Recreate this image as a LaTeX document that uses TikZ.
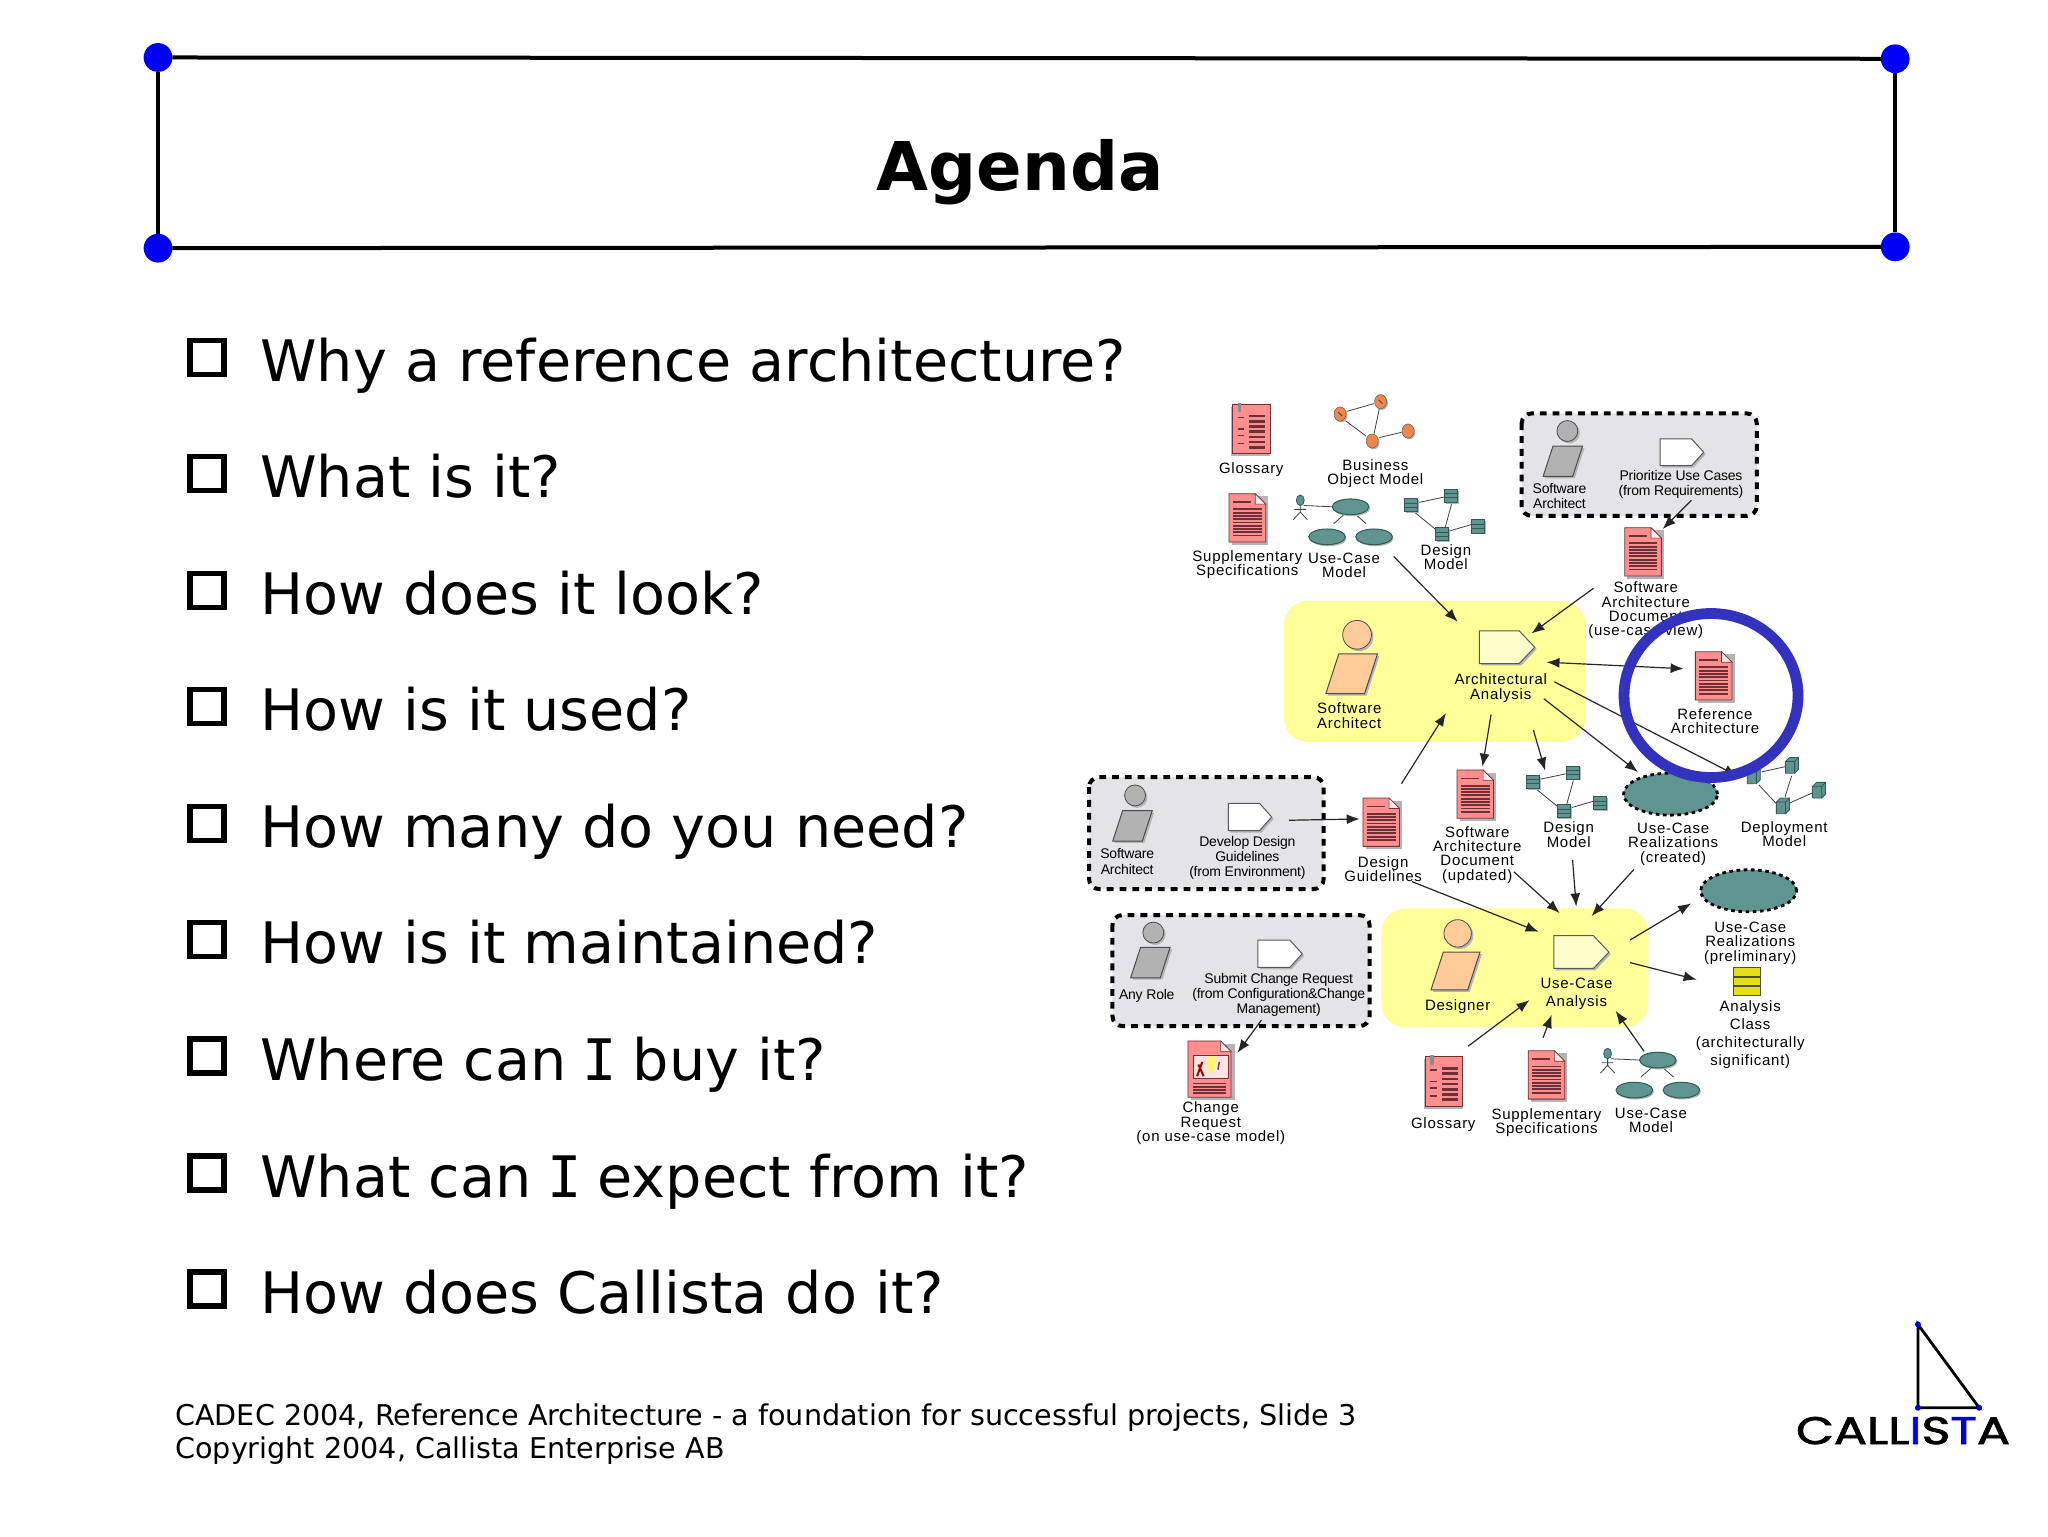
\documentclass[tikz,border=0pt]{standalone}
\usepackage{fontspec}
\usepackage{graphicx}
\setmainfont{DejaVu Sans}
\newfontfamily\lblfont[LetterSpace=5]{Liberation Sans}
\newfontfamily\lblnfont[LetterSpace=-1.6]{Liberation Sans}
\newfontfamily\logofont[FakeBold=1.8]{Poppins}
\newfontfamily\slabfont{DejaVu Sans Mono}
\newcommand{\slabI}{\kern-0.04em{\slabfont I}\kern-0.04em}
\usetikzlibrary{arrows.meta,shapes.geometric}
\definecolor{docpink}{HTML}{FF8F8F}
\definecolor{docdark}{HTML}{6E3038}
\definecolor{teal}{HTML}{5F9490}
\definecolor{tealdark}{HTML}{2F5A58}
\definecolor{yellowbg}{HTML}{FFFF99}
\definecolor{groupgray}{HTML}{E4E4E8}
\definecolor{paleyellow}{HTML}{FFFFCC}
\definecolor{peach}{HTML}{FFCC99}
\definecolor{ringblue}{HTML}{3232BE}
\definecolor{orangeball}{HTML}{F0884E}
\definecolor{shadowgray}{HTML}{B4B4B4}
\tikzset{
  x=0.65306pt,y=-0.65306pt,
  corner/.style={circle,fill=blue!95!black,minimum size=14.4pt,inner sep=0pt,outer sep=0pt},
  frameline/.style={line width=2pt,black},
  checkbox/.style={draw=black,line width=2.7pt,minimum size=17pt,inner sep=0pt,outer sep=0pt},
  bullettext/.style={anchor=base west,font=\fontsize{28.6}{30}\selectfont,inner sep=0pt},
  footer/.style={anchor=base west,font=\fontsize{14.3}{17}\selectfont,inner sep=0pt,align=left},
  lab/.style={align=center,inner sep=0pt,yshift=-0.6pt,font=\lblfont\fontsize{7.5}{7.2}\selectfont},
  labn/.style={align=center,inner sep=0pt,yshift=-0.4pt,font=\lblnfont\fontsize{7}{7.6}\selectfont},
  arr/.style={-{Latex[length=6.5pt,width=5pt]},line width=0.6pt,black!85},
  dbl/.style={{Latex[length=6.5pt,width=5pt]}-{Latex[length=6.5pt,width=5pt]},line width=0.6pt,black!85},
  yellowbox/.style={fill=yellowbg,rounded corners=12pt},
  groupbox/.style={fill=groupgray,draw=black,line width=2pt,dash pattern=on 3.4pt off 3pt,rounded corners=5pt},
  thing/.style={fill=teal,draw=tealdark,line width=0.5pt},
  rel/.style={line width=0.4pt,black!75},
  realization/.style={fill=teal,draw=black,line width=1.4pt,dash pattern=on 1.8pt off 1.8pt},
  docicon/.pic={
    \fill[shadowgray] (2,2) -- (30,2) -- (30,39) -- (2,39) -- cycle;
    \path[fill=docpink,draw=docdark,line width=0.4pt] (0,0) -- (20,0) -- (28,8) -- (28,37) -- (0,37) -- cycle;
    \path[fill=white!80!docpink,draw=docdark,line width=0.3pt] (20,0) -- (20,8) -- (28,8) -- cycle;
    \foreach \yy in {12,14.5,...,33.5} {\draw[docdark,line width=0.95pt] (3,\yy) -- (25,\yy);}
    \draw[docdark,line width=0.8pt] (3,6.5) -- (17,6.5);
  },
  glossicon/.pic={
    \fill[shadowgray] (-1,2) -- (29,2) -- (29,40) -- (-1,40) -- cycle;
    \path[fill=docpink,draw=docdark,line width=0.5pt] (0,0) -- (29,0) -- (29,38) -- (0,38) -- cycle;
    \foreach \yy in {9,13,...,35} {\draw[docdark,line width=1.3pt] (13,\yy) -- (25,\yy);}
    \foreach \yy in {10,19,24,30} {\draw[docdark,line width=0.8pt] (4,\yy) -- (9,\yy);}
    \fill[black!45] (4,-1) rectangle (7,6);
  },
  changeicon/.pic={
    \fill[shadowgray] (2,2) -- (36,2) -- (36,45) -- (2,45) -- cycle;
    \path[fill=docpink,draw=docdark,line width=0.4pt] (0,0) -- (25,0) -- (33,8) -- (33,43) -- (0,43) -- cycle;
    \path[fill=white!75!docpink,draw=docdark,line width=0.5pt] (4,11) rectangle (31,29);
    \path[fill=white!80!docpink,draw=docdark,line width=0.3pt] (25,0) -- (25,8) -- (33,8) -- cycle;
    \fill[yellow!60] (15,12) -- (21,12) -- (20,24) -- (16,24) -- cycle;
    \draw[red!65!black,line width=1pt] (7,27) -- (11,16) (12,27) -- (8,18);
    \draw[docdark,line width=0.7pt] (23,22) -- (24,16);
    \foreach \yy in {32.5,35,37.5,40} {\draw[docdark,line width=0.8pt] (4,\yy) -- (29,\yy);}
  },
  businessmodel/.pic={
    \draw[rel] (5,-2) -- (26,-8) (4,5) -- (20,17) (30,-4) -- (26,15) (30,18) -- (47,14);
    \foreach \px/\py in {0/0,31/-9.5,24.6/20.6,52/13}{
      \fill[shadowgray] (\px+1,\py+1) circle [x radius=4.6,y radius=5.4];
      \path[fill=orangeball,draw=black!60,line width=0.3pt] (\px,\py) circle [x radius=4.6,y radius=5.4];}
    \draw[black!70,line width=0.5pt] (-1.5,-1.5) -- (1.5,1.5) (29.5,-11) -- (32.5,-8);
  },
  usecasemodel/.pic={
    \draw[rel] (-36,-1) -- (-14,0);
    \path[fill=teal,draw=tealdark,line width=0.4pt] (-38.5,-5) circle [x radius=3,y radius=4];
    \draw[rel] (-38.5,-1) -- (-38.5,4) -- (-44,10) (-38.5,4) -- (-33,10) (-43,2) -- (-34,2);
    \draw[rel] (-13,13) -- (-5,6) (12,13) -- (4,6);
    \foreach \px/\py in {0/0,-18/23,18/23}{
      \fill[shadowgray] (\px+1,\py+1.2) circle [x radius=14,y radius=6];
      \path[thing] (\px,\py) circle [x radius=14,y radius=6];}
  },
  designmodel/.pic={
    \draw[rel] (6,-2) -- (25,-6) (3,6) -- (19,19) (31,-1) -- (26,17) (29,20) -- (46,15);
    \foreach \px/\py in {0/0,30.5/-7,23.5/22.4,51/16.4}{
      \fill[shadowgray] (\px-4,\py-4) rectangle (\px+6.2,\py+6);
      \path[fill=teal,draw=tealdark,line width=0.4pt] (\px-5,\py-5) rectangle (\px+5,\py+5);
      \draw[tealdark,line width=0.4pt] (\px-5,\py-1.5) -- (\px+5,\py-1.5) (\px-5,\py+1.5) -- (\px+5,\py+1.5);}
  },
  deploymodel/.pic={
    \draw[rel] (6,-3) -- (24,-7) (4,7) -- (17,21) (29,0) -- (24,16) (27,21) -- (45,13);
    \foreach \px/\py in {0/0,29.3/-8,22.3/23,50/11}{
      \path[fill=teal,draw=tealdark,line width=0.4pt] (\px-5,\py-3) -- (\px-2,\py-6) -- (\px+5,\py-6) -- (\px+5,\py+3) -- (\px+2,\py+6) -- (\px-5,\py+6) -- cycle;
      \draw[tealdark,line width=0.4pt] (\px-5,\py-3) -- (\px+2,\py-3) -- (\px+2,\py+6) (\px+2,\py-3) -- (\px+5,\py-6);}
  },
}
\newcommand{\person}[7]{% head x,y,r; body top-left x,y; size; fill
  \fill[shadowgray] (#1+1.5,#2+1.5) circle [radius=#3];
  \path[fill=#7,draw=black!70,line width=0.4pt] (#1,#2) circle [radius=#3];
  \fill[shadowgray] (#4+1.5,#5+1.5) -- ++(#6*0.78,0) -- ++(-#6*0.26,#6*0.8) -- ++(-#6*0.78,0) -- cycle;
  \path[fill=#7,draw=black!70,line width=0.5pt] (#4,#5) -- ++(#6*0.78,0) -- ++(-#6*0.26,#6*0.8) -- ++(-#6*0.78,0) -- cycle;
}
\newcommand{\activity}[4]{% left, top, width-to-tip, height
  \fill[shadowgray] (#1+1.5,#2+1.5) -- ++(#3*0.72,0) -- ++(#3*0.28,#4/2) -- ++(-#3*0.28,#4/2) -- ++(-#3*0.72,0) -- cycle;
  \path[activityfill,draw=black!65,line width=0.5pt] (#1,#2) -- ++(#3*0.72,0) -- ++(#3*0.28,#4/2) -- ++(-#3*0.28,#4/2) -- ++(-#3*0.72,0) -- cycle;
}
\tikzset{activityfill/.style={fill=white}}
\begin{document}
\begin{tikzpicture}
\useasboundingbox (0,0) rectangle (1568,1176);
\fill[white] (0,0) rectangle (1568,1176);

% ---- title frame
\node[corner] (tl) at (121,44) {};
\node[corner] (tr) at (1451,45) {};
\node[corner] (br) at (1451,189) {};
\node[corner] (bl) at (121,190) {};
\draw[frameline] (tl) -- (tr);
\draw[frameline] (tr) -- (br);
\draw[frameline] (br) -- (bl);
\draw[frameline] (bl) -- (tl);
\node[inner sep=0pt,font=\bfseries\fontsize{33.6}{36}\selectfont] (title) at (781,132) {Agenda};

% ---- bullets
\node[checkbox] (b1) at (158.5,273.5) {};
\node[checkbox] (b2) at (158.5,362.5) {};
\node[checkbox] (b3) at (158.5,452) {};
\node[checkbox] (b4) at (158.5,541) {};
\node[checkbox] (b5) at (158.5,630.5) {};
\node[checkbox] (b6) at (158.5,719.5) {};
\node[checkbox] (b7) at (158.5,808.5) {};
\node[checkbox] (b8) at (158.5,898) {};
\node[checkbox] (b9) at (158.5,987) {};
\node[bullettext] (t1) at (199,292) {Why a reference architecture?};
\node[bullettext] (t2) at (199,381) {What is it?};
\node[bullettext] (t3) at (199,470.5) {How does it look?};
\node[bullettext] (t4) at (199,559.5) {How is it used?};
\node[bullettext] (t5) at (199,649) {How many do you need?};
\node[bullettext] (t6) at (199,738) {How is it maintained?};
\node[bullettext] (t7) at (199,827) {Where can \slabI{} buy it?};
\node[bullettext] (t8) at (199,916.5) {What can \slabI{} expect from it?};
\node[bullettext] (t9) at (199,1005.5) {How does Callista do it?};

% ---- footer
\node[footer] (f1) at (134,1091) {CADEC 2004, Reference Architecture - a foundation for successful projects, Slide 3};
\node[footer] (f2) at (134,1117) {Copyright 2004, Callista Enterprise AB};

% ---- logo
\coordinate (la) at (1468.4,1014);
\coordinate (lb) at (1468.4,1077.8);
\coordinate (lc) at (1515.3,1077.8);
\draw[line width=1.4pt,black,line join=miter] (la) -- (lb) -- (lc) -- cycle;
\fill[blue!85!black] (la) circle [radius=2.3] (lb) circle [radius=2.3] (lc) circle [radius=2.3];
\node[inner sep=0pt] (logo) at (1457,1095.3) {\resizebox{107pt}{13.6pt}{\logofont CALL\textcolor{blue!85!black}{I}S\textcolor{blue!85!black}{T}A}};

% ---- coloured backgrounds
\path[yellowbox] (983,460) rectangle (1214,568);
\path[yellowbox] (1057.6,695.5) rectangle (1262,786.6);
\path[groupbox] (1165,316.5) rectangle (1345,395);
\path[groupbox] (833.8,595) rectangle (1013.4,680.7);
\path[groupbox] (851.7,700.6) rectangle (1048.6,785.6);

% ---- top inputs
\pic at (943.5,309.5) {glossicon};
\node[lab] (glossA) at (958,359) {Glossary};
\pic at (1026,317) {businessmodel};
\node[lab] (bom) at (1053,361.5) {Business\\Object Model};
\pic at (941,378) {docicon};
\node[lab] (suppA) at (955,431.5) {Supplementary\\Specifications};
\pic at (1034,388) {usecasemodel};
\node[lab] (ucmA) at (1029,432) {Use-Case\\Model};
\pic at (1080.5,386.6) {designmodel};
\node[lab] (desA) at (1107,425.5) {Design\\Model};

\person{1200}{330}{8}{1189}{341.5}{29}{black!30}
\node[labn] (saA) at (1194,379) {Software\\Architect};
\activity{1271}{336}{33.4}{20.5}
\node[labn] (prio) at (1287,370) {Prioritize Use Cases\\(from Requirements)};
\pic at (1244,404) {docicon};
\node[lab] (sadA) at (1260,466.5) {Software\\Architecture\\Document\\(use-case view)};

% ---- architectural analysis
\person{1039}{486}{11}{1025}{500.6}{38}{peach}
\node[lab] (saB) at (1033,547) {Software\\Architect};
\tikzset{activityfill/.style={fill=paleyellow}}
\activity{1132.6}{483}{42.4}{25}
\tikzset{activityfill/.style={fill=white}}
\node[lab] (aa) at (1149,526) {Architectural\\Analysis};
\pic at (1298,499) {docicon};
\node[lab] (ra) at (1313,551) {Reference\\Architecture};

% ---- middle row
\person{869}{609}{8}{859.5}{620.7}{29}{black!30}
\node[labn] (saC) at (863,659) {Software\\Architect};
\activity{940.4}{615}{33.2}{21}
\node[labn] (ddg) at (955,656) {Develop Design\\Guidelines\\(from Environment)};
\pic at (1043.5,611) {docicon};
\node[lab] (dg) at (1059,664.5) {Design\\Guidelines};
\pic at (1115.5,589.5) {docicon};
\node[lab] (sadB) at (1131,653.5) {Software\\Architecture\\Document\\(updated)};
\pic at (1173.6,598.5) {designmodel};
\node[lab] (desB) at (1201,638) {Design\\Model};
\node[realization,ellipse,minimum width=47pt,minimum height=21pt,inner sep=0pt] (ucrA) at (1279,608) {};
\node[lab] (ucrAl) at (1281,645.5) {Use-Case\\Realizations\\(created)};
\pic at (1342.7,594) {deploymodel};
\node[lab] (dep) at (1366,637.5) {Deployment\\Model};

% ---- use-case analysis
\person{883}{714}{8}{873.2}{725.4}{29}{black!30}
\node[labn] (anyrole) at (878,762) {Any Role};
\activity{963}{719.7}{34}{21}
\node[labn] (scr) at (979,761) {Submit Change Request\\(from Configuration\&Change\\Management)};
\pic at (909.5,797) {changeicon};
\node[lab] (cr) at (927,859) {Change\\Request\\(on use-case model)};
\person{1116}{714.6}{10.5}{1105}{729}{36}{peach}
\node[lab] (des) at (1116,770) {Designer};
\tikzset{activityfill/.style={fill=paleyellow}}
\activity{1189.6}{716.4}{42.2}{25}
\tikzset{activityfill/.style={fill=white}}
\node[lab,font=\lblfont\fontsize{7.5}{9}\selectfont] (uca) at (1207,760) {Use-Case\\Analysis};
\node[realization,ellipse,minimum width=48pt,minimum height=21pt,inner sep=0pt] (ucrB) at (1338.8,682) {};
\node[lab] (ucrBl) at (1340,721) {Use-Case\\Realizations\\(preliminary)};
\path[fill=yellow!90!black,draw=black!70,line width=0.5pt] (1327,741) rectangle (1348,762);
\draw[black!70,line width=0.9pt] (1327,748) -- (1348,748) (1327,755) -- (1348,755);
\node[lab,font=\lblfont\fontsize{7.5}{9}\selectfont] (ac) at (1340,791.5) {Analysis\\Class\\(architecturally\\significant)};
\pic at (1091,809) {glossicon};
\node[lab] (glossB) at (1105,860) {Glossary};
\pic at (1170,804.5) {docicon};
\node[lab] (suppB) at (1184,858.5) {Supplementary\\Specifications};
\pic at (1269.3,811.6) {usecasemodel};
\node[lab] (ucmB) at (1264,857) {Use-Case\\Model};

% ---- connectors
\coordinate (aUcmS) at (1067,426);   \coordinate (aUcmE) at (1116,476);
\coordinate (aSadS) at (1220,450.4); \coordinate (aSadE) at (1172.5,485);
\coordinate (aPrioS) at (1295,383);  \coordinate (aPrioE) at (1273,405);
\coordinate (aRaS) at (1184,507);    \coordinate (aRaE) at (1289,512);
\coordinate (aDepS) at (1190,522);   \coordinate (aDepE) at (1330,594);
\coordinate (aUcrS) at (1182,535);   \coordinate (aUcrE) at (1254,591);
\coordinate (aSad2S) at (1141.6,547); \coordinate (aSad2E) at (1135,587);
\coordinate (aDesS) at (1174,559);   \coordinate (aDesE) at (1183,590);
\coordinate (aDgS) at (1073,600);    \coordinate (aDgE) at (1107,546);
\coordinate (aDdgS) at (987,628);    \coordinate (aDdgE) at (1041,627);
\coordinate (bDgS) at (1081,675);    \coordinate (bDgE) at (1178,713.4);
\coordinate (bSadS) at (1159,667.4); \coordinate (bSadE) at (1194,699);
\coordinate (bDesS) at (1204,658.5); \coordinate (bDesE) at (1206.8,694);
\coordinate (bUcrS) at (1251,665.6); \coordinate (bUcrE) at (1218.5,701.4);
\coordinate (bOutAS) at (1248,719.7); \coordinate (bOutAE) at (1294.7,691.7);
\coordinate (bOutBS) at (1248,737);  \coordinate (bOutBE) at (1299,750);
\coordinate (bGlS) at (1124,801);    \coordinate (bGlE) at (1171,765.7);
\coordinate (bSuS) at (1181.4,794.5); \coordinate (bSuE) at (1188,777);
\coordinate (bUcS) at (1258.8,805);  \coordinate (bUcE) at (1237,774);
\coordinate (cS) at (965.8,781);     \coordinate (cE) at (947.4,806);
\draw[arr] (aUcmS) -- (aUcmE);
\draw[arr] (aSadS) -- (aSadE);
\draw[arr] (aPrioS) -- (aPrioE);
\draw[dbl] (aRaS) -- (aRaE);
\draw[arr] (aDepS) -- (aDepE);
\draw[arr] (aUcrS) -- (aUcrE);
\draw[arr] (aSad2S) -- (aSad2E);
\draw[arr] (aDesS) -- (aDesE);
\draw[arr] (aDgS) -- (aDgE);
\draw[arr] (aDdgS) -- (aDdgE);
\draw[arr] (bDgS) -- (bDgE);
\draw[arr] (bSadS) -- (bSadE);
\draw[arr] (bDesS) -- (bDesE);
\draw[arr] (bUcrS) -- (bUcrE);
\draw[arr] (bOutAS) -- (bOutAE);
\draw[arr] (bOutBS) -- (bOutBE);
\draw[arr] (bGlS) -- (bGlE);
\draw[arr] (bSuS) -- (bSuE);
\draw[arr] (bUcS) -- (bUcE);
\draw[arr] (cS) -- (cE);

% ---- highlight ring
\node[ellipse,draw=ringblue,line width=5.4pt,minimum width=87pt,minimum height=82pt,inner sep=0pt] (ring) at (1310,532.5) {};
\end{tikzpicture}
\end{document}
